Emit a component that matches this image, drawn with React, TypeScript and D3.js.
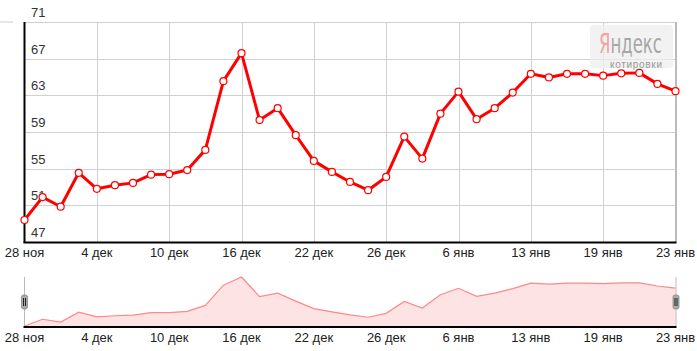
import React from "react";
import * as d3 from "d3";

// closing quotes, one per trading day, 28 Nov .. 23 Jan
const values = [
  49.4, 51.9, 50.85, 54.55, 52.8, 53.2, 53.45, 54.35, 54.4, 54.85, 57.05, 64.55, 67.6,
  60.3, 61.6, 58.65, 55.85, 54.65, 53.55, 52.65, 54.1, 58.5, 56.1, 61.0, 63.4,
  60.4, 61.6, 63.3, 65.35, 64.95, 65.35, 65.35, 65.15, 65.4, 65.45, 64.25, 63.45,
];
// one label every fourth point
const tickLabels = [
  "28 ноя", "4 дек", "10 дек", "16 дек", "22 дек", "26 дек", "6 янв", "13 янв", "19 янв", "23 янв",
];
const yTicks = [47, 51, 55, 59, 63, 67, 71];

const W = 697;
const H = 351;
const FONT = "'Liberation Sans', Arial, sans-serif";
const NARROW = "'Liberation Sans Narrow', 'DejaVu Sans Condensed', sans-serif";

const App = () => {
  const left = 24.5;
  const right = 675.5;
  const top = 22;
  const bottom = 242;
  const navTop = 277;
  const navBottom = 326.5;

  const x = d3.scaleLinear().domain([0, values.length - 1]).range([left, right]);
  const y = d3.scaleLinear().domain([47, 71]).range([bottom, top]);
  const yNav = d3
    .scaleLinear()
    .domain(d3.extent(values) as [number, number])
    .range([navBottom - 0.5, navTop]);

  const line = d3
    .line<number>()
    .x((_, i) => x(i))
    .y((d) => y(d));
  const navLine = d3
    .line<number>()
    .x((_, i) => x(i))
    .y((d) => yNav(d));
  const navArea = d3
    .area<number>()
    .x((_, i) => x(i))
    .y0(navBottom)
    .y1((d) => yNav(d));

  const tickIdx = tickLabels.map((_, i) => i * 4);

  return (
    <svg
      width={W}
      height={H}
      style={{ position: "absolute", left: 0, top: 0, background: "#fff" }}
      fontFamily={FONT}
    >
      {/* grid */}
      <line x1={0} x2={13} y1={top} y2={top} stroke="#ccc" />
      {yTicks.slice(1).map((t) => (
        <line key={t} x1={left} x2={right} y1={Math.round(y(t)) + 0.5} y2={Math.round(y(t)) + 0.5} stroke="#d0d0d0" />
      ))}
      {tickIdx.slice(1, -1).map((i) => (
        <line key={i} x1={Math.round(x(i)) + 0.5} x2={Math.round(x(i)) + 0.5} y1={top} y2={bottom} stroke="#d0d0d0" />
      ))}
      <line x1={right + 0.5} x2={right + 0.5} y1={top} y2={bottom} stroke="#bbb" strokeWidth={2} />

      {/* watermark */}
      <g>
        <rect x={590} y={25} width={83} height={43} rx={4} fill="#eee" opacity={0.75} />
        <text transform="translate(599,52.5) scale(0.68,1)" fontSize={27} fontFamily={NARROW}>
          <tspan fill="#f4a3a3">Я</tspan>
          <tspan fill="#a6a6a6">ндекс</tspan>
        </text>
        <text x={610} y={68} fontSize={10} fill="#999" textLength={52} lengthAdjust="spacing">
          котировки
        </text>
      </g>

      {/* y labels */}
      {yTicks.map((t) => (
        <text key={t} x={31} y={Math.round(y(t)) - 5} fontSize={13} fill="#333">
          {t}
        </text>
      ))}

      {/* axes */}
      <line x1={left} x2={left} y1={top} y2={bottom + 1} stroke="#000" strokeWidth={2} />
      <line x1={left - 1} x2={right + 1} y1={bottom + 0.5} y2={bottom + 0.5} stroke="#000" strokeWidth={2} />

      {/* series */}
      <path d={line(values) ?? ""} fill="none" stroke="#ff0000" strokeWidth={3} strokeLinejoin="round" />
      {values.map((v, i) => (
        <circle key={i} cx={x(i)} cy={y(v)} r={3.5} fill="#fff" stroke="#ff0000" strokeWidth={1.2} />
      ))}

      {/* x labels */}
      {tickIdx.map((i, k) => (
        <text key={i} x={x(i)} y={256.5} textAnchor="middle" fontSize={13} fill="#222">
          {tickLabels[k]}
        </text>
      ))}

      {/* navigator */}
      <path d={navArea(values) ?? ""} fill="#fde3e3" />
      <path d={navLine(values) ?? ""} fill="none" stroke="#f88" strokeWidth={1.2} />
      <line x1={left} x2={left} y1={navTop} y2={navBottom} stroke="#bbb" />
      <line x1={right + 0.5} x2={right + 0.5} y1={navTop} y2={navBottom} stroke="#bbb" />
      <line x1={left - 1} x2={right + 1} y1={navBottom + 0.5} y2={navBottom + 0.5} stroke="#000" strokeWidth={2} />
      {[left, right + 0.5].map((hx) => (
        <g key={hx}>
          <rect x={hx - 3} y={295} width={6} height={14} rx={2} fill="#aaa" stroke="#888" strokeWidth={0.8} />
          <line x1={hx - 1} x2={hx - 1} y1={298} y2={306} stroke="#222" />
          <line x1={hx + 1} x2={hx + 1} y1={298} y2={306} stroke="#222" />
        </g>
      ))}
      {tickIdx.map((i, k) => (
        <text key={i} x={x(i)} y={341.5} textAnchor="middle" fontSize={13} fill="#222">
          {tickLabels[k]}
        </text>
      ))}
    </svg>
  );
};

export default App;
